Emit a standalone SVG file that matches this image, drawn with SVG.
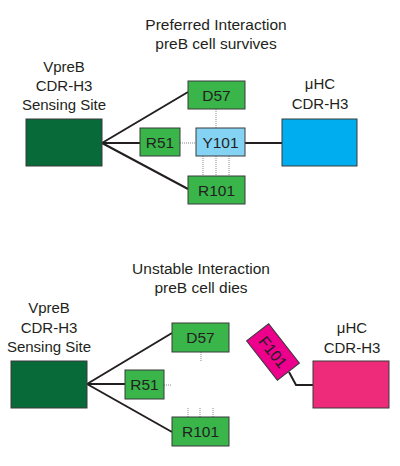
<svg xmlns="http://www.w3.org/2000/svg" width="400" height="466" viewBox="0 0 400 466">
<style>
text{font-family:"Liberation Sans",Arial,sans-serif;fill:#231f20;text-anchor:middle}
.t{font-size:15.5px}
.l{font-size:15px}
.b{font-size:15.5px}
.box{stroke:#3a3a3a;stroke-width:1}
.g{fill:#39b54a}
.dg{fill:#076a38}
.lb{fill:#84d3f5}
.bl{fill:#00aeef}
.pk{fill:#ee2a7b}
.mg{fill:#ec008c}
.ln{stroke:#231f20;stroke-width:2;fill:none}
.dt{stroke:#8a8a8a;stroke-width:1;stroke-dasharray:1 1;fill:none}
</style>
<rect width="400" height="466" fill="#fff"/>
<g id="title-top">
<text class="t" x="216" y="30">Preferred Interaction</text>
<text class="t" x="216" y="49">preB cell survives</text>
</g>
<g id="title-bottom">
<text class="t" x="201" y="274">Unstable Interaction</text>
<text class="t" x="201" y="293">preB cell dies</text>
</g>
<g id="connectors">
<path class="ln" d="M102 143L188 92M102 143H140M102 143L188 189M245 143H282"/>
<path class="dt" d="M216 109V128M180 143H196M203 156V176M216 156V176M229 156V176"/>
<path class="ln" d="M87 384L172 333M87 384H125M87 384L172 432M289 372L296 385H313"/>
<path class="dt" d="M201 352V361M164 385H172M188 408V417M200 408V417M213 408V417"/>
</g>
<g id="vpreb-top">
<rect class="box dg" x="26" y="119" width="76" height="47"/>
<text class="l" x="64" y="72">VpreB</text>
<text class="l" x="64" y="91">CDR-H3</text>
<text class="l" x="64" y="110">Sensing Site</text>
</g>
<g id="d57-top"><rect class="box g" x="188" y="81" width="57" height="28"/><text class="b" x="216.5" y="100.5">D57</text></g>
<g id="r51-top"><rect class="box g" x="140" y="128" width="40" height="28"/><text class="b" x="160" y="147.5">R51</text></g>
<g id="y101-top"><rect class="box lb" x="196" y="128" width="49" height="28"/><text class="b" x="220.5" y="147.5">Y101</text></g>
<g id="r101-top"><rect class="box g" x="188" y="176" width="57" height="28"/><text class="b" x="216.5" y="195.5">R101</text></g>
<g id="uhc-top">
<rect class="box bl" x="282" y="119" width="75" height="47"/>
<text class="l" x="320" y="89">μHC</text>
<text class="l" x="320" y="109">CDR-H3</text>
</g>
<g id="vpreb-bottom">
<rect class="box dg" x="11" y="361" width="76" height="47"/>
<text class="l" x="49" y="313">VpreB</text>
<text class="l" x="49" y="333">CDR-H3</text>
<text class="l" x="49" y="352">Sensing Site</text>
</g>
<g id="d57-bottom"><rect class="box g" x="172" y="323" width="57" height="29"/><text class="b" x="200.5" y="343">D57</text></g>
<g id="r51-bottom"><rect class="box g" x="125" y="370" width="39" height="29"/><text class="b" x="144.5" y="390">R51</text></g>
<g id="r101-bottom"><rect class="box g" x="172" y="417" width="57" height="29"/><text class="b" x="200.5" y="437">R101</text></g>
<g id="f101" transform="translate(273 352) rotate(52)">
<rect class="box mg" x="-25" y="-14" width="50" height="28"/>
<text class="b" x="0" y="5.5">F101</text>
</g>
<g id="uhc-bottom">
<rect class="box pk" x="313" y="361" width="76" height="47"/>
<text class="l" x="352" y="333">μHC</text>
<text class="l" x="352" y="353">CDR-H3</text>
</g>
</svg>
